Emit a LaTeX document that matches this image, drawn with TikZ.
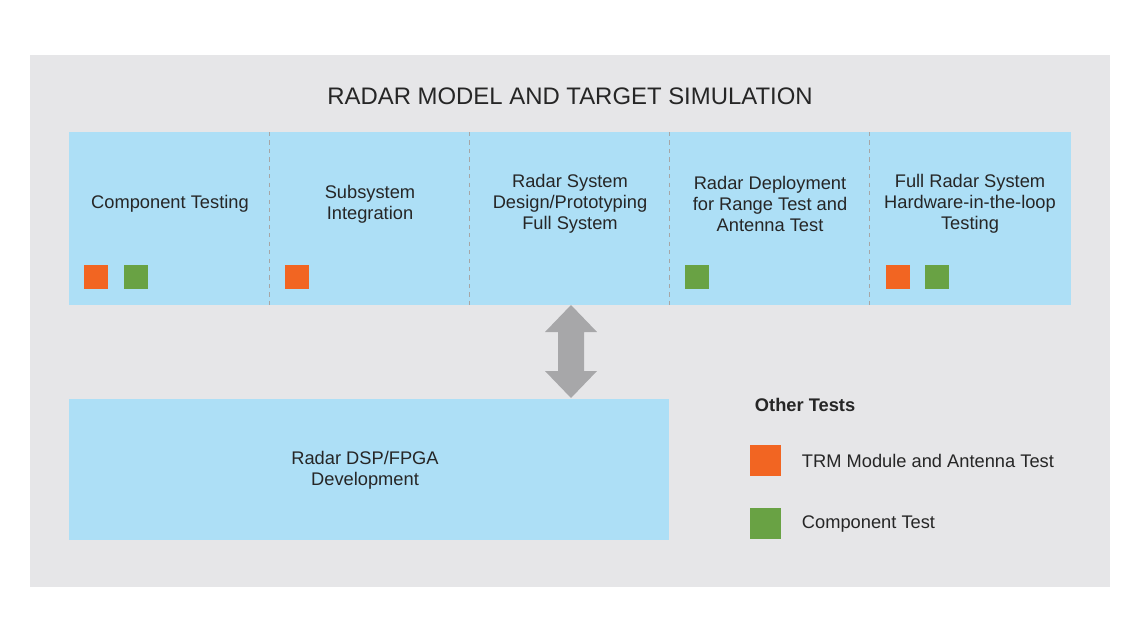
\documentclass[tikz,border=0pt]{standalone}
\usepackage{fontspec}
\setmainfont{Liberation Sans}
\definecolor{bggray}{HTML}{E6E6E8}
\definecolor{skyblue}{HTML}{ADDFF6}
\definecolor{trmorange}{HTML}{F26522}
\definecolor{compgreen}{HTML}{69A244}
\definecolor{arrowgray}{HTML}{A7A7A9}
\tikzset{
  stage/.style={align=center,font=\fontsize{13}{15}\selectfont,text=black!85},
  sq/.style={minimum size=24*0.025cm,inner sep=0pt,anchor=north west},
  key/.style={minimum size=31*0.025cm,inner sep=0pt,anchor=north west}
}
\begin{document}
\begin{tikzpicture}[x=0.025cm,y=-0.025cm]
\useasboundingbox (0,0) rectangle (1140,641);
\fill[bggray] (30,55) rectangle (1110,587);
\node[font=\fontsize{17}{20}\selectfont,text=black!85] (title) at (570,96) {RADAR MODEL AND TARGET SIMULATION};
% stages band
\fill[skyblue] (69,132) rectangle (1071,305);
\foreach \x in {269,469,669,869}
  \draw[gray!70,dashed,very thin] (\x,132) -- (\x,305);
\node[stage] (comp) at (170,204) {Component Testing};
\node[stage] (subs) at (370,204) {Subsystem\\Integration};
\node[stage] (design) at (570,204) {Radar System\\Design/Prototyping\\Full System};
\node[stage] (deploy) at (770,204) {Radar Deployment\\for Range Test and\\Antenna Test};
\node[stage] (hil) at (970,204) {Full Radar System\\Hardware-in-the-loop\\Testing};
\node[sq,fill=trmorange] (o1) at (84,265) {};
\node[sq,fill=compgreen] (g1) at (124,265) {};
\node[sq,fill=trmorange] (o2) at (285,265) {};
\node[sq,fill=compgreen] (g4) at (685,265) {};
\node[sq,fill=trmorange] (o5) at (886,265) {};
\node[sq,fill=compgreen] (g5) at (925,265) {};
% development box
\fill[skyblue] (69,399) rectangle (669,540);
\node[stage] (dsp) at (365,470) {Radar DSP/FPGA\\Development};
% double arrow
\fill[arrowgray] (571,305) -- (597,332) -- (584,332) -- (584,371) -- (597,371)
  -- (571,398) -- (545,371) -- (558,371) -- (558,332) -- (545,332) -- cycle;
% legend
\node[stage,anchor=west,font=\fontsize{13}{15}\selectfont\bfseries] (other) at (750,405) {Other Tests};
\node[key,fill=trmorange] (ko) at (750,445) {};
\node[stage,anchor=west] (kot) at (797,461) {TRM Module and Antenna Test};
\node[key,fill=compgreen] (kg) at (750,508) {};
\node[stage,anchor=west] (kgt) at (797,524) {Component Test};
\end{tikzpicture}
\end{document}
